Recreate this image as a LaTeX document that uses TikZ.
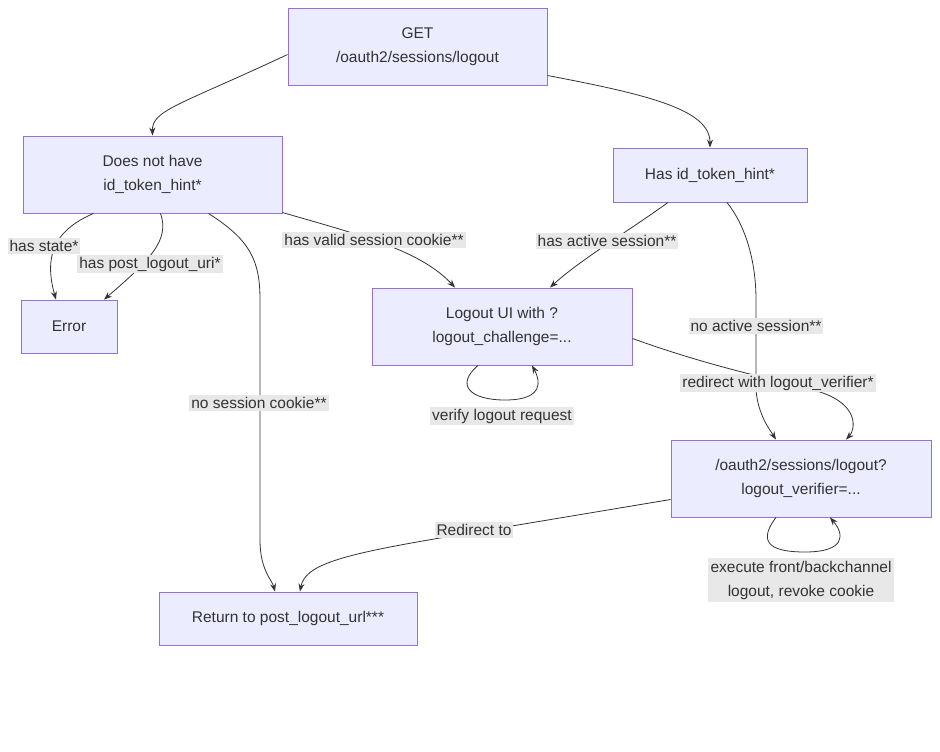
\documentclass[tikz,border=0pt]{standalone}
\usepackage{fontspec}
\setmainfont{Liberation Sans}
\usetikzlibrary{arrows.meta}
\definecolor{nfill}{HTML}{ECECFF}
\definecolor{nstroke}{HTML}{9370DB}
\definecolor{lbl}{HTML}{E8E8E8}
\definecolor{ln}{HTML}{333333}
\begin{document}
\begin{tikzpicture}[x=1pt,y=-1pt,
  box/.style={draw=nstroke,fill=nfill,line width=0.9pt,align=center,text=ln,inner sep=0pt,font=\fontsize{15.5}{24}\selectfont},
  lab/.style={fill=lbl,text=ln,inner sep=2pt,align=center,font=\fontsize{15.5}{24}\selectfont},
  e/.style={draw=ln,line width=0.8pt,-{Stealth[length=8pt,width=6pt]}}]
\useasboundingbox (0,0) rectangle (940,752);
\node[box,minimum width=259pt,minimum height=77pt] (get) at (417.5,46.5) {GET\\/oauth2/sessions/logout};
\node[box,minimum width=259pt,minimum height=77pt] (dnh) at (152.5,174.5) {Does not have\\id\_token\_hint*};
\node[box,minimum width=194pt,minimum height=54pt] (has) at (710,175) {Has id\_token\_hint*};
\node[box,minimum width=96pt,minimum height=53pt] (err) at (69,326.5) {Error};
\node[box,minimum width=260pt,minimum height=77pt] (ui) at (502,326.5) {Logout UI with ?\\logout\_challenge=...};
\node[box,minimum width=260pt,minimum height=77pt] (ver) at (801,478.5) {/oauth2/sessions/logout?\\logout\_verifier=...};
\node[box,minimum width=258pt,minimum height=53pt] (ret) at (288,618.5) {Return to post\_logout\_url***};

\draw[e] ([yshift=-8pt]get.west) .. controls (180,105) and (152,110) .. (dnh.north);
\draw[e] ([yshift=-29pt]get.east) .. controls (650,95) and (710,110) .. (has.north);
\draw[e] ([xshift=-59pt]dnh.south) .. controls (60,228) and (42,250) .. ([xshift=-13pt]err.north);
\draw[e] ([xshift=8pt]dnh.south) .. controls (170,240) and (150,260) .. ([xshift=35pt]err.north);
\draw[e] ([yshift=-38pt]dnh.east) .. controls (360,235) and (420,250) .. ([xshift=-47pt]ui.north);
\draw[e] ([xshift=56pt]dnh.south) .. controls (250,240) and (260,260) .. (260,300) -- (260,540) .. controls (260,570) and (272,580) .. ([xshift=-13pt]ret.north);
\draw[e] ([xshift=-42pt]has.south) .. controls (630,230) and (580,260) .. ([xshift=48pt]ui.north);
\draw[e] ([xshift=17pt]has.south) .. controls (745,225) and (756,260) .. (756,300) -- (756,390) .. controls (758,415) and (770,430) .. ([xshift=-25pt]ver.north);
\draw[e] ([yshift=-12pt]ui.east) .. controls (720,370) and (780,380) .. (820,392) .. controls (860,405) and (855,430) .. ([xshift=45pt]ver.north);
\draw[e] ([xshift=-24pt]ui.south) .. controls (455,385) and (470,400) .. (505,400) .. controls (545,400) and (540,380) .. ([xshift=30pt]ui.south);
\draw[e] ([yshift=-21pt]ver.west) -- (440,538) .. controls (340,555) and (305,565) .. ([xshift=12pt]ret.north);
\draw[e] ([xshift=-25pt]ver.south) .. controls (755,545) and (775,552) .. (805,552) .. controls (845,552) and (845,535) .. ([xshift=29pt]ver.south);

\node[lab] (l1) at (44,246) {has state*};
\node[lab] (l2) at (150,264) {has post\_logout\_uri*};
\node[lab] (l3) at (374,240) {has valid session cookie**};
\node[lab] (l4) at (259,403) {no session cookie**};
\node[lab] (l5) at (607,241) {has active session**};
\node[lab] (l6) at (756,326) {no active session**};
\node[lab] (l7) at (778,383) {redirect with logout\_verifier*};
\node[lab] (l8) at (502,416) {verify logout request};
\node[lab] (l9) at (474,530) {Redirect to};
\node[lab,inner sep=3pt] (l10) at (801,580) {execute front/backchannel\\logout, revoke cookie};
\end{tikzpicture}
\end{document}
